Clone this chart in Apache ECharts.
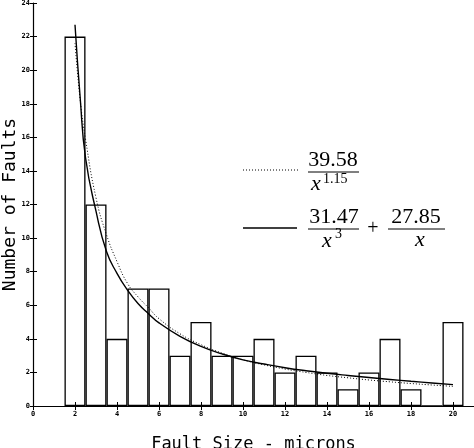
<!DOCTYPE html>
<html>
<head>
<meta charset="utf-8">
<script src="https://cdn.jsdelivr.net/npm/echarts@6/dist/echarts.min.js"></script>
<style>
  html, body { margin: 0; padding: 0; background: #fff; }
  #chart { width: 474px; height: 448px; }
</style>
</head>
<body>
<div id="chart"></div>
<script>
// histogram: fault size (microns) vs number of faults
var sizes = [2, 3, 4, 5, 6, 7, 8, 9, 10, 11, 12, 13, 14, 15, 16, 17, 18, 19, 20];
var counts = [22, 12, 4, 7, 7, 3, 5, 3, 3, 4, 2, 3, 2, 1, 2, 4, 1, 0, 5];

// fitted curves, values
var curveX = [2.0, 2.25, 2.5, 3, 3.5, 4, 4.5, 5, 5.5, 6, 7, 8, 9, 10, 11, 12, 13, 14, 15, 16, 17, 18, 19, 20];
var fitPower = [21.6, 18.2, 15.9, 12.4, 10.2, 8.6, 7.3, 6.5, 5.85, 5.2, 4.3, 3.65, 3.15, 2.75, 2.45, 2.2, 2.0, 1.82, 1.68, 1.55, 1.44, 1.34, 1.25, 1.17];
var fitSum = [22.7, 18.3, 14.8, 11.6, 9.2, 7.9, 6.9, 6.1, 5.5, 4.95, 4.15, 3.55, 3.1, 2.75, 2.5, 2.28, 2.1, 1.95, 1.82, 1.7, 1.58, 1.47, 1.37, 1.27];

var myChart = echarts.init(document.getElementById('chart'));

var tickFont = {
  fontSize: 7,
  fontWeight: 'bold',
  fontFamily: 'DejaVu Sans Mono',
  color: '#000'
};
var serif = 'Liberation Serif';

var option = {
  animation: false,
  grid: { left: 33, right: 0, top: 3, bottom: 42, containLabel: false, outerBoundsMode: 'none' },
  xAxis: [{
    type: 'value',
    min: 0,
    max: 21,
    interval: 2,
    name: 'Fault Size - microns',
    nameLocation: 'middle',
    nameGap: 30,
    nameMoveOverlap: false,
    nameTextStyle: { fontFamily: 'DejaVu Sans Mono', fontSize: 17, color: '#000' },
    axisLine: { lineStyle: { color: '#000', width: 1.2 } },
    axisTick: { length: 4, lineStyle: { color: '#000' } },
    axisLabel: Object.assign({ margin: 5, showMaxLabel: false, formatter: function (v) { return v <= 20 ? v : ''; } }, tickFont),
    splitLine: { show: false }
  }, {
    type: 'value',
    position: 'bottom',
    min: 0,
    max: 21,
    interval: 2,
    axisLine: { show: false },
    axisTick: { inside: true, length: 4, lineStyle: { color: '#000' } },
    axisLabel: { show: false },
    splitLine: { show: false }
  }],
  yAxis: [{
    type: 'value',
    min: 0,
    max: 24,
    interval: 2,
    name: 'Number of Faults',
    nameLocation: 'middle',
    nameGap: 14,
    nameMoveOverlap: false,
    nameTextStyle: { fontFamily: 'DejaVu Sans Mono', fontSize: 18, color: '#000' },
    axisLine: { show: true, lineStyle: { color: '#000', width: 1.2 } },
    axisTick: { show: true, length: 3, lineStyle: { color: '#000' } },
    axisLabel: Object.assign({ margin: 3 }, tickFont),
    splitLine: { show: false }
  }, {
    type: 'value',
    position: 'left',
    min: 0,
    max: 24,
    interval: 2,
    axisLine: { show: false },
    axisTick: { show: true, inside: true, length: 4, lineStyle: { color: '#000' } },
    axisLabel: { show: false },
    splitLine: { show: false }
  }],
  series: [
    {
      type: 'bar',
      barWidth: 21,
      data: sizes.map(function (s, i) { return [s, counts[i]]; }),
      itemStyle: { color: 'rgba(255,255,255,0)', borderColor: '#000', borderWidth: 1.3 },
      silent: true
    },
    {
      type: 'line',
      smooth: true,
      symbol: 'none',
      data: curveX.map(function (x, i) { return [x, fitPower[i]]; }),
      lineStyle: { color: '#000', width: 1, type: [1, 2] }
    },
    {
      type: 'line',
      smooth: true,
      symbol: 'none',
      data: curveX.map(function (x, i) { return [x, fitSum[i]]; }),
      lineStyle: { color: '#000', width: 1.4 }
    }
  ],
  graphic: [
    // dotted legend entry
    { type: 'line', shape: { x1: 243, y1: 170, x2: 298, y2: 170 }, style: { stroke: '#000', lineWidth: 1, lineDash: [1, 2] } },
    { type: 'text', x: 333, y: 160, style: { text: '39.58', font: '22px ' + serif, fill: '#000', align: 'center', verticalAlign: 'middle' } },
    { type: 'line', shape: { x1: 308, y1: 172, x2: 359, y2: 172 }, style: { stroke: '#000', lineWidth: 1 } },
    { type: 'text', x: 316, y: 184, style: { text: 'x', font: 'italic 22px ' + serif, fill: '#000', align: 'center', verticalAlign: 'middle' } },
    { type: 'text', x: 323, y: 179, style: { text: '1.15', font: '14px ' + serif, fill: '#000', align: 'left', verticalAlign: 'middle' } },
    // solid legend entry
    { type: 'line', shape: { x1: 243, y1: 228, x2: 297, y2: 228 }, style: { stroke: '#000', lineWidth: 1.4 } },
    { type: 'text', x: 334, y: 217, style: { text: '31.47', font: '22px ' + serif, fill: '#000', align: 'center', verticalAlign: 'middle' } },
    { type: 'line', shape: { x1: 308, y1: 229, x2: 359, y2: 229 }, style: { stroke: '#000', lineWidth: 1 } },
    { type: 'text', x: 327, y: 241, style: { text: 'x', font: 'italic 22px ' + serif, fill: '#000', align: 'center', verticalAlign: 'middle' } },
    { type: 'text', x: 335, y: 234, style: { text: '3', font: '14px ' + serif, fill: '#000', align: 'left', verticalAlign: 'middle' } },
    { type: 'text', x: 373, y: 229, style: { text: '+', font: '20px ' + serif, fill: '#000', align: 'center', verticalAlign: 'middle' } },
    { type: 'text', x: 416, y: 217, style: { text: '27.85', font: '22px ' + serif, fill: '#000', align: 'center', verticalAlign: 'middle' } },
    { type: 'line', shape: { x1: 388, y1: 229, x2: 445, y2: 229 }, style: { stroke: '#000', lineWidth: 1 } },
    { type: 'text', x: 420, y: 240, style: { text: 'x', font: 'italic 22px ' + serif, fill: '#000', align: 'center', verticalAlign: 'middle' } }
  ]
};

myChart.setOption(option);
</script>
</body>
</html>
